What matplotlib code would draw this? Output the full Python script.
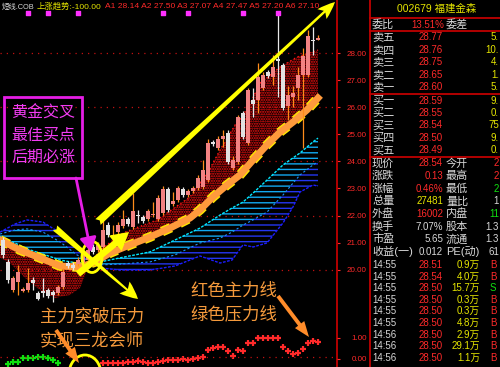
"""
002679 福建金森 日K线 + 主力线/压力线 (行情软件截图复刻)
"""
import numpy as np
import matplotlib.pyplot as plt
from matplotlib.patches import Rectangle, Ellipse

plt.rcParams['font.family'] = ['Noto Sans CJK SC', 'DejaVu Sans']
NUM = ['Liberation Sans', 'Noto Sans CJK SC']

# ── K线数据 (开 收 高 低) ─────────────────────────────
opens = [21.10, 20.29, 19.25, 19.55, 19.22, 19.25, 19.62, 19.14, 19.22, 19.25,
         19.18, 19.14, 19.36, 20.25, 20.18, 20.21, 20.29, 20.36, 20.84, 20.73,
         20.84, 21.65, 21.17, 21.39, 21.62, 21.87, 21.58, 22.02, 21.95, 21.87,
         22.02, 21.87, 22.10, 22.98, 22.43, 22.58, 22.98, 22.76, 22.91, 23.02,
         23.05, 23.31, 24.72, 24.50, 24.83, 25.05, 23.76, 23.98, 25.79, 24.68,
         26.27, 26.27, 26.71, 27.30, 27.11, 27.78, 27.56, 26.04, 26.38, 26.71,
         27.19, 27.19, 28.48, 28.49]
closes = [20.55, 19.62, 19.70, 19.92, 19.29, 19.51, 19.51, 18.92, 19.14, 19.03,
          19.07, 19.36, 19.92, 20.14, 20.07, 20.36, 20.55, 20.73, 20.66, 20.92,
          21.47, 21.28, 21.28, 21.65, 21.87, 21.69, 22.17, 21.99, 21.80, 22.17,
          22.06, 22.65, 22.98, 22.21, 22.54, 23.02, 22.76, 22.91, 23.02, 23.39,
          23.68, 24.68, 24.64, 24.83, 24.94, 23.98, 24.05, 25.64, 24.90, 26.63,
          26.12, 27.11, 27.19, 27.15, 27.48, 27.70, 25.97, 26.45, 26.52, 27.19,
          27.89, 28.63, 28.44, 28.54]
highs = [21.21, 20.40, 19.77, 20.18, 19.36, 20.07, 19.73, 19.22, 19.70, 19.33,
         19.25, 19.44, 20.07, 20.32, 20.29, 20.47, 20.66, 20.88, 20.95, 21.03,
         21.84, 21.76, 21.65, 21.76, 22.21, 21.95, 22.83, 22.21, 22.02, 22.24,
         22.50, 22.76, 23.09, 23.05, 22.87, 23.09, 23.05, 22.98, 23.09, 23.50,
         24.05, 24.83, 24.79, 24.94, 25.16, 25.16, 24.20, 25.71, 25.86, 26.71,
         26.71, 27.63, 27.30, 27.37, 27.93, 29.48, 27.63, 26.78, 26.78, 27.48,
         28.18, 28.85, 28.96, 28.66]
lows = [20.44, 19.51, 19.18, 19.07, 19.18, 19.18, 19.25, 18.89, 19.00, 18.96,
        18.81, 19.07, 19.29, 20.07, 19.99, 20.14, 20.21, 20.29, 20.58, 20.66,
        20.77, 21.21, 21.10, 21.32, 21.54, 21.62, 21.51, 21.73, 21.73, 21.80,
        21.95, 21.80, 22.02, 22.13, 22.35, 22.50, 22.69, 22.69, 22.83, 22.94,
        22.98, 23.24, 24.57, 24.42, 24.53, 23.90, 23.68, 23.90, 24.83, 24.61,
        25.64, 25.79, 26.63, 27.08, 26.82, 26.38, 25.90, 25.53, 26.01, 26.27,
        24.49, 27.11, 27.93, 28.48]

# ── 均线带 (从图上读取的点) ─────────────────────────────
orange_idx = [-0.6, 3.4, 7.4, 11.4, 15.4, 18.4, 21.4, 25.4, 29.4, 33.4, 37.4,
              39.4, 42.0, 44.8, 47.4, 50.0, 52.8, 55.4, 58.0, 60.8, 63.0]
orange_val = [21.10, 20.73, 20.44, 20.14, 20.10, 20.29, 20.62, 20.92, 21.21, 21.54, 21.91,
              22.21, 22.69, 23.13, 23.50, 24.05, 24.61, 25.08, 25.45, 25.90, 26.34]

red_idx = [-0.6, 1.4, 4.4, 7.4, 10.4, 13.4, 15.4, 17.0, 19.4, 24.0,
           30.8, 37.4, 41.0, 43.4, 46.4, 49.0, 51.4, 55.4, 58.8, 63.0]
red_hi = [20.99, 20.80, 20.58, 20.32, 20.10, 19.99, 19.99, 20.10, 20.73, 21.36,
          21.84, 22.69, 23.60, 24.42, 25.34, 25.97, 26.89, 27.48, 27.85, 28.11]
red_lo = [20.44, 20.25, 19.70, 19.25, 18.96, 19.07, 19.33, 20.07, 20.44, 20.80,
          21.28, 21.91, 22.39, 22.83, 23.31, 23.76, 24.24, 25.05, 25.53, 26.27]

blue_idx = [-0.6, 2.4, 4.8, 8.0, 11.4, 14.8, 17.4, 19.4, 23.4, 29.4, 34.4,
            39.4, 43.4, 45.8, 48.0, 50.0, 52.8, 56.0, 58.0, 59.4, 62.0, 63.0]
blue_fast = [21.21, 20.99, 20.77, 20.58, 20.36, 20.25, 20.25, 20.29, 20.44, 20.66, 21.10,
             21.54, 22.02, 22.28, 22.50, 22.83, 23.31, 23.87, 24.13, 24.31, 24.72, 24.86]
blue_mid = [21.32, 21.47, 21.51, 21.39, 21.03, 20.55, 20.29, 20.18, 20.21, 20.29, 20.55,
            20.99, 21.17, 21.39, 21.65, 21.84, 22.13, 22.76, 23.20, 23.50, 23.87, 23.98]
blue_slow = [21.39, 21.69, 21.84, 21.76, 21.36, 20.84, 20.44, 20.07, 19.99, 19.99, 20.14,
             20.51, 20.25, 20.36, 20.92, 20.84, 20.99, 21.73, 22.32, 22.87, 23.13, 23.09]

# ── 副图指标 ─────────────────────────────────────────
nan = np.nan
ind_val = [nan, -0.24, -0.14, -0.14, 0.05, 0.05, 0.05, 0.10, 0.10, 0.05,
           -0.05, -0.19, nan, nan, nan, nan, nan, nan, nan, nan,
           -0.19, -0.19, -0.19, -0.19, -0.19, -0.14, -0.14, -0.10, -0.14, -0.19,
           -0.19, -0.14, -0.10, -0.05, -0.05, -0.05, 0.00, -0.05, 0.00, 0.05,
           0.10, 0.43, 0.52, 0.57, 0.57, 0.38, 0.14, 0.43, 0.38, 0.76,
           0.76, 1.00, 1.00, 1.00, 1.00, 1.00, 0.57, 0.38, 0.24, 0.29,
           0.48, 0.76, 0.86, 0.81]
first_red = 12                      # 之前为绿色
signal_idx = [5, 9, 15, 32, 37, 48, 55]

price_ticks = [20, 21, 22, 23, 24, 25, 26, 27, 28]
grid_levels = [20, 22, 24, 26, 28]

# ── 右侧盘口 (右边被截断的数字只保留可见部分) ─────────────
ask_names = ['卖五', '卖四', '卖三', '卖二', '卖一']
ask_px = ['28.77', '28.76', '28.75', '28.65', '28.60']
ask_vol = ['5.', '10.', '4.', '1.', '5.']
bid_names = ['买一', '买二', '买三', '买四', '买五']
bid_px = ['28.59', '28.55', '28.54', '28.50', '28.49']
bid_vol = ['9.', '0.', '75', '9.', '0.']
stat_l = ['现价', '涨跌', '涨幅', '总量', '外盘', '换手', '市盈', '收益(一)']
stat_lv = ['28.54', '0.13', '0.46%', '27481', '16002', '7.07%', '5.65', '0.012']
stat_r = ['今开', '最高', '最低', '量比', '内盘', '股本', '流通', 'PE(动)']
stat_rv = ['2', '2', '2', '1', '11', '1.3', '1.3', '61']
trade_t = ['14:55'] * 6 + ['14:56'] * 3
trade_px = ['28.51', '28.54', '28.50', '28.50', '28.50', '28.50', '28.50', '28.50', '28.50']
trade_vol = ['0.9万', '4.0万', '15.7万', '0.3万', '0.3万', '4.8万', '2.9万', '29.1万', '1.1万']
trade_bs = ['B', 'B', 'S', 'B', 'B', 'B', 'B', 'B', 'B']

RED, YEL, WHT, GRN = '#ff2a2a', '#e6e600', '#d8d8d8', '#10e010'

fig = plt.figure(figsize=(5, 3.67), dpi=100, facecolor='black')
W, H = 500, 367
ax = fig.add_axes([0, 0, 337 / W, 1])
ax.set_facecolor('black')
ax.set_xlim(-0.6, 66.8)
ax.set_ylim(16.413, 29.956)

n = len(opens)
idx = np.arange(n)
o, c = np.array(opens), np.array(closes)
hi, lo = np.array(highs), np.array(lows)
up = c >= o

# 均线带
ax.fill_between(blue_idx, blue_fast, blue_mid, facecolor='none', edgecolor='#12a8f0',
                hatch='---', linewidth=0, zorder=1)
ax.fill_between(blue_idx, blue_mid, blue_slow, facecolor='none', edgecolor='#2436f0',
                hatch='---', linewidth=0, zorder=1)
ax.plot(blue_idx, blue_fast, color='#00e8ff', lw=1, ls=(0, (2, 1)), zorder=1.2)
ax.plot(blue_idx, blue_mid, color='#1890ff', lw=0.8, ls=(0, (2, 2)), zorder=1.2)
ax.plot(blue_idx, blue_slow, color='#1c1cff', lw=1, ls=(0, (2, 1)), zorder=1.2)
ax.fill_between(red_idx, red_lo, red_hi, facecolor='none', edgecolor='#ff1010',
                hatch='.......', linewidth=0, zorder=2)
ax.plot(red_idx, red_hi, color='#ff1414', lw=1, ls=(0, (1, 2)), zorder=2)
ax.plot(orange_idx, orange_val, color='#ffe600', lw=7, ls=(0, (1, 1)), zorder=2.6)
ax.plot(orange_idx, orange_val, color='#ff9a3c', lw=5, zorder=2.7)

# K线
ax.vlines(idx[up], lo[up], hi[up], color='#ff8c1a', lw=0.9, zorder=3)
ax.vlines(idx[~up], lo[~up], hi[~up], color='#e8e8e8', lw=0.9, zorder=3)
ax.bar(idx, np.maximum(np.abs(c - o), 0.05), bottom=np.minimum(o, c), width=0.8,
       color=np.where(up, '#f28282', '#e2e2e2'), linewidth=0, zorder=4)

# 顶部信号点
ax.scatter(signal_idx, [1 - 13 / H] * len(signal_idx), marker='s', s=5, color='#ff30ff',
           transform=ax.get_xaxis_transform(), zorder=5)

for g in grid_levels:
    ax.axhline(g, color='#c01010', lw=0.9, ls=(0, (1, 4)), zorder=0.5)

ax.yaxis.tick_right()
ax.set_yticks(price_ticks)
ax.set_yticklabels([f'{p:.2f}' for p in price_ticks])
ax.tick_params(axis='y', colors=RED, labelsize=5.8, length=2, pad=19.5,
               labelfontfamily='Liberation Sans')
for t in ax.get_yticklabels():
    t.set_ha('right')
ax.set_xticks([])
for s in ['left', 'top', 'bottom']:
    ax.spines[s].set_visible(False)
ax.spines['right'].set_color('#c00000')
ax.spines['right'].set_linewidth(1.3)

# 副图
ax2 = fig.add_axes([0, 0, 337 / W, 41 / H])
ax2.set_facecolor('none')
ax2.set_xlim(-0.6, 66.8)
ax2.set_ylim(-0.381, 1.571)
iv = np.array(ind_val)
ax2.plot(idx[:first_red], iv[:first_red], ls='none', marker='+', ms=4, mew=1.6, color=GRN)
ax2.plot(idx[first_red:], iv[first_red:], ls='none', marker='+', ms=4, mew=1.6, color=RED)
ax2.axhline(0.1, color='#c01010', lw=0.9, ls=(0, (1, 4)))
ax2.yaxis.tick_right()
ax2.set_yticks([0, 1])
ax2.set_yticklabels(['0.00', '1.00'])
ax2.tick_params(axis='y', colors=RED, labelsize=5.8, length=2, pad=19.5,
                labelfontfamily='Liberation Sans')
for t in ax2.get_yticklabels():
    t.set_ha('right')
ax2.set_xticks([])
for s in ax2.spines.values():
    s.set_visible(False)

# ── 覆盖层: 文字与标注 (像素坐标) ─────────────────────
ov = fig.add_axes([0, 0, 1, 1])
ov.set_xlim(0, W)
ov.set_ylim(H, 0)
ov.axis('off')
ov.patch.set_alpha(0)

ov.text(2, 7, '短线.COB', color=WHT, fontsize=5.3, va='center', family=NUM)
ov.text(37, 7, '上涨趋势:-100.00', color=YEL, fontsize=6, va='center', family=NUM)
ov.text(105, 7, 'A1 28.14 A2 27.50 A3 27.07 A4 27.47 A5 27.20 A6 27.10', color=RED,
        fontsize=6.1, va='center', family=NUM)

ov.add_patch(Rectangle((4, 97), 78, 81, fill=False, ec='#e61ee6', lw=2))
for k, line in enumerate(['黄金交叉', '最佳买点', '后期必涨']):
    ov.text(43, 113 + 22 * k, line, color='#f23cf2', fontsize=11.5, ha='center', va='center')
ov.annotate('', xy=(91, 252), xytext=(76, 178),
            arrowprops=dict(arrowstyle='-|>,head_length=0.6,head_width=0.35', color='#e61ee6',
                            lw=2, mutation_scale=14, shrinkA=0, shrinkB=0))

YELLOW = '#ffff00'
ov.annotate('', xy=(335, 2), xytext=(98, 222),
            arrowprops=dict(arrowstyle='fancy,head_length=0.8,head_width=0.6,tail_width=0.35',
                            color=YELLOW, lw=0, mutation_scale=16, shrinkA=0, shrinkB=0))
ov.annotate('', xy=(129, 232), xytext=(78, 274),
            arrowprops=dict(arrowstyle='simple,head_length=0.8,head_width=0.9,tail_width=0.3',
                            color=YELLOW, lw=0, mutation_scale=16, shrinkA=0, shrinkB=0))
ov.annotate('', xy=(138, 299), xytext=(55, 228),
            arrowprops=dict(arrowstyle='fancy,head_length=0.8,head_width=0.7,tail_width=0.3',
                            color=YELLOW, lw=0, mutation_scale=16, shrinkA=0, shrinkB=0))
ov.add_patch(Ellipse((92, 257), 20, 31, fill=False, ec=YELLOW, lw=2))
ov.add_patch(Ellipse((85, 374), 32, 38, fill=False, ec=YELLOW, lw=2))

ORG = '#f59a3c'
ov.text(40, 316, '主力突破压力', color=ORG, fontsize=12.5, va='center')
ov.text(40, 340, '实现三龙会师', color=ORG, fontsize=12.5, va='center')
ov.text(190, 291, '红色主力线', color=ORG, fontsize=12.5, va='center')
ov.text(190, 314, '绿色压力线', color=ORG, fontsize=12.5, va='center')
for a, b in [((56, 330), (79, 363)), ((278, 296), (309, 337)), ((278, 323), (291, 370))]:
    ov.annotate('', xy=b, xytext=a,
                arrowprops=dict(arrowstyle='simple,head_length=0.8,head_width=0.6,tail_width=0.2',
                                color='#ff8c2a', lw=0, mutation_scale=14, shrinkA=0, shrinkB=0))

# 右侧盘口
ov.plot([370, 370], [0, H], color='#c00000', lw=1.3)
for yy in [18, 31, 94, 157]:
    ov.plot([370, W], [yy, yy], color='#c00000', lw=1.3)
ov.text(437, 9, '002679 福建金森', color=YEL, fontsize=7.5, ha='center', va='center', family=NUM)
ov.text(372, 24.5, '委比', color=WHT, fontsize=8, va='center')
ov.text(444, 24.5, '13.51%', color=RED, fontsize=7, ha='right', va='center', family=NUM)
ov.text(446, 24.5, '委差', color=WHT, fontsize=8, va='center')

for k in range(5):
    y = 37.5 + 12.4 * k
    ov.text(372, y, ask_names[k], color=WHT, fontsize=8, va='center')
    ov.text(443, y, ask_px[k], color=RED, fontsize=7, ha='right', va='center', family=NUM)
    ov.text(499, y, ask_vol[k], color=YEL, fontsize=7, ha='right', va='center', family=NUM)
    y = 100.5 + 12.4 * k
    ov.text(372, y, bid_names[k], color=WHT, fontsize=8, va='center')
    ov.text(443, y, bid_px[k], color=RED, fontsize=7, ha='right', va='center', family=NUM)
    ov.text(499, y, bid_vol[k], color=YEL, fontsize=7, ha='right', va='center', family=NUM)

lv_col = [RED, RED, RED, YEL, RED, WHT, WHT, WHT]
rv_col = [RED, RED, GRN, WHT, GRN, WHT, WHT, WHT]
for k in range(8):
    y = 163.5 + 12.6 * k
    ov.text(372, y, stat_l[k], color=WHT, fontsize=8, va='center', family=NUM)
    ov.text(443, y, stat_lv[k], color=lv_col[k], fontsize=7, ha='right', va='center', family=NUM)
    ov.text(446, y, stat_r[k], color=WHT, fontsize=8, va='center', family=NUM)
    ov.text(499, y, stat_rv[k], color=rv_col[k], fontsize=7, ha='right', va='center', family=NUM)

for k in range(9):
    y = 265 + 11.6 * k
    ov.text(372, y, trade_t[k], color=WHT, fontsize=7, va='center', family=NUM)
    ov.text(443, y, trade_px[k], color=RED, fontsize=7, ha='right', va='center', family=NUM)
    ov.text(480, y, trade_vol[k], color=YEL, fontsize=7, ha='right', va='center', family=NUM)
    ov.text(490, y, trade_bs[k], color=RED if trade_bs[k] == 'B' else GRN, fontsize=7,
            va='center', family=NUM)

fig.savefig('out.png', dpi=100, facecolor='black')
